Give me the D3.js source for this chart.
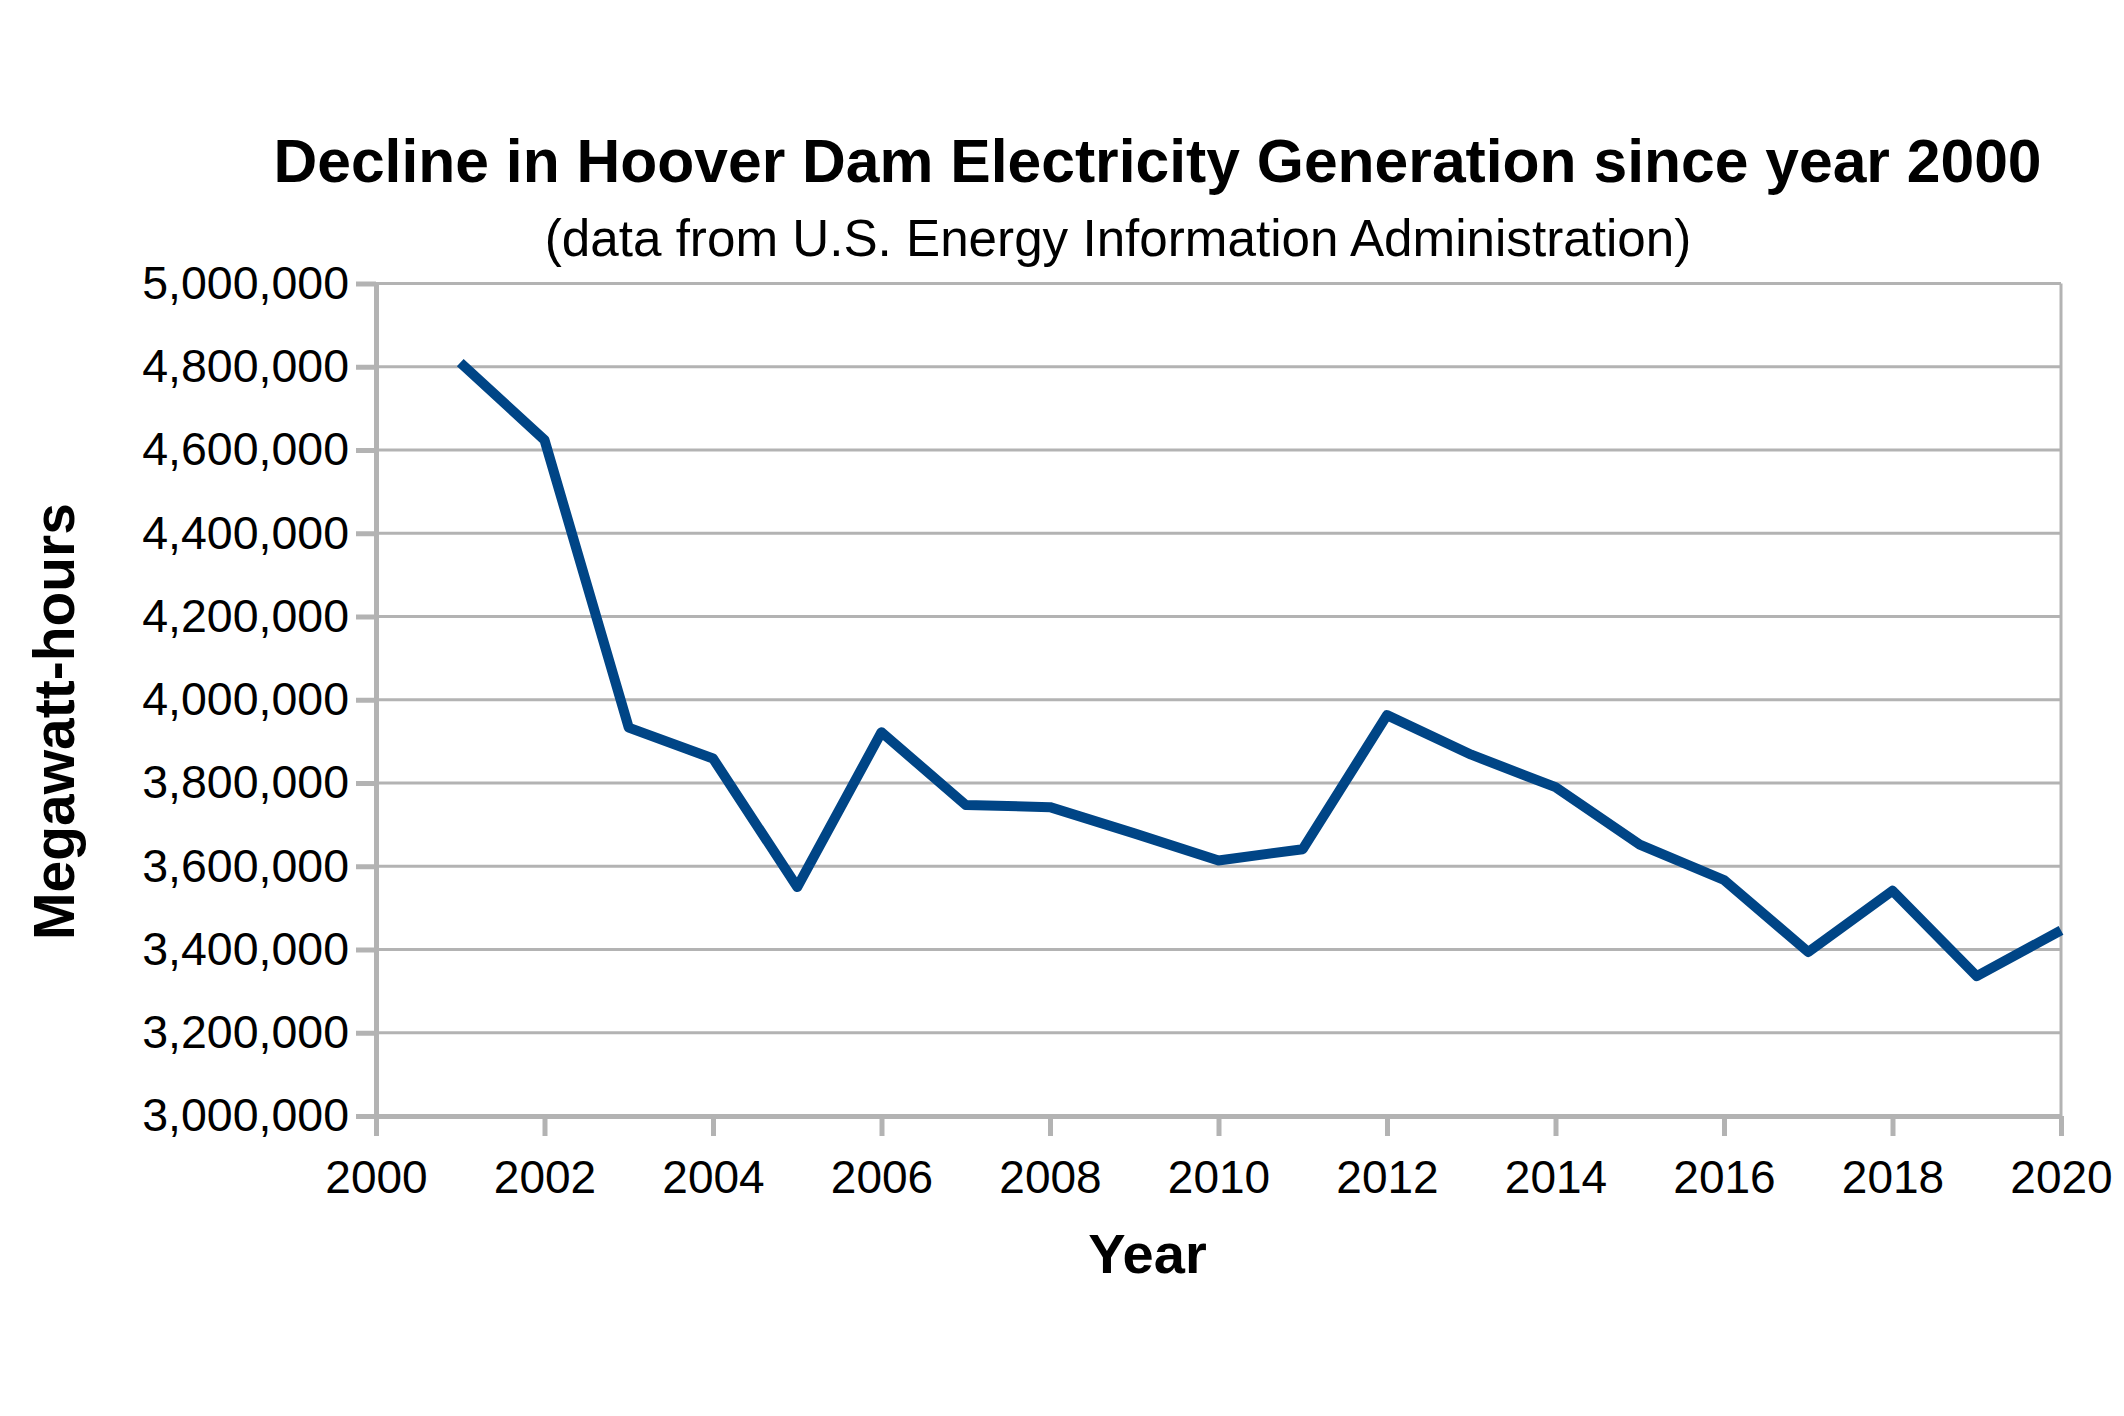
<!DOCTYPE html>
<html>
<head>
<meta charset="utf-8">
<script src="https://cdn.jsdelivr.net/npm/d3@7"></script>
<style>
  html, body { margin: 0; padding: 0; background: #ffffff; }
  svg { display: block; font-family: "Liberation Sans", Arial, sans-serif; }
</style>
</head>
<body>
<svg id="chart" width="2124" height="1416"></svg>
<script>
// ---- data ----
const years = [2001, 2002, 2003, 2004, 2005, 2006, 2007, 2008, 2009, 2010,
               2011, 2012, 2013, 2014, 2015, 2016, 2017, 2018, 2019, 2020];
const generation = [4810000, 4624000, 3933000, 3859000, 3550000, 3922000, 3747000, 3742000, 3679000, 3614000,
                    3641000, 3963000, 3868000, 3790000, 3652000, 3567000, 3394000, 3541000, 3336000, 3446000];
const yTicks = [3000000, 3200000, 3400000, 3600000, 3800000, 4000000, 4200000, 4400000, 4600000, 4800000, 5000000];
const xTicks = [2000, 2002, 2004, 2006, 2008, 2010, 2012, 2014, 2016, 2018, 2020];
const titleText = "Decline in Hoover Dam Electricity Generation since year 2000";
const subtitleText = "(data from U.S. Energy Information Administration)";
const xLabel = "Year";
const yLabel = "Megawatt-hours";

// ---- layout ----
const W = 2124, H = 1416;
const margin = {left: 376, right: 63, top: 283.5, bottom: 300};
const iw = W - margin.left - margin.right;
const ih = H - margin.top - margin.bottom;
const gridColor = "#b3b3b3";

const svg = d3.select("#chart");
const g = svg.append("g").attr("transform", `translate(${margin.left},${margin.top})`);

const x = d3.scaleLinear().domain([2000, 2020]).range([0, iw]);
const y = d3.scaleLinear().domain([3000000, 5000000]).range([ih, 0]);

// gridlines
g.append("g")
  .selectAll("line")
  .data(yTicks)
  .join("line")
  .attr("x1", 0).attr("x2", iw)
  .attr("y1", d => y(d)).attr("y2", d => y(d))
  .attr("stroke", gridColor).attr("stroke-width", 3);

// right border
g.append("line")
  .attr("x1", iw).attr("x2", iw).attr("y1", 0).attr("y2", ih)
  .attr("stroke", gridColor).attr("stroke-width", 3);

// y axis
const yAxis = g.append("g")
  .call(d3.axisLeft(y).tickValues(yTicks).tickFormat(d3.format(",")).tickSize(20).tickSizeOuter(0).tickPadding(7));
yAxis.select(".domain").attr("stroke", gridColor).attr("stroke-width", 5);
yAxis.selectAll(".tick line").attr("stroke", gridColor).attr("stroke-width", 5);
yAxis.selectAll(".tick text").attr("font-size", 46.5).attr("fill", "#000")
  .attr("font-family", "Liberation Sans, Arial, sans-serif");

// x axis
const xAxis = g.append("g").attr("transform", `translate(0,${ih})`)
  .call(d3.axisBottom(x).tickValues(xTicks).tickFormat(d3.format("d")).tickSize(20).tickSizeOuter(0).tickPadding(24));
xAxis.select(".domain").attr("stroke", gridColor).attr("stroke-width", 5);
xAxis.selectAll(".tick line").attr("stroke", gridColor).attr("stroke-width", 5);
xAxis.selectAll(".tick text").attr("font-size", 46).attr("fill", "#000")
  .attr("font-family", "Liberation Sans, Arial, sans-serif");

// data line
const pts = years.map((yr, i) => [yr, generation[i]]);
g.append("path")
  .datum(pts)
  .attr("fill", "none")
  .attr("stroke", "#004586")
  .attr("stroke-width", 10)
  .attr("stroke-linejoin", "round")
  .attr("stroke-linecap", "butt")
  .attr("d", d3.line().x(d => x(d[0])).y(d => y(d[1])));

// titles
svg.append("text")
  .attr("x", 1157.5).attr("y", 182)
  .attr("text-anchor", "middle")
  .attr("font-size", 60.6).attr("font-weight", "bold").attr("fill", "#000")
  .text(titleText);

svg.append("text")
  .attr("x", 1118).attr("y", 256)
  .attr("text-anchor", "middle")
  .attr("font-size", 51.2).attr("fill", "#000")
  .text(subtitleText);

// axis titles
svg.append("text")
  .attr("x", 1147.5).attr("y", 1273)
  .attr("text-anchor", "middle")
  .attr("font-size", 56).attr("font-weight", "bold").attr("fill", "#000")
  .text(xLabel);

svg.append("text")
  .attr("transform", "translate(74,721.5) rotate(-90)")
  .attr("text-anchor", "middle")
  .attr("font-size", 57).attr("font-weight", "bold").attr("fill", "#000")
  .text(yLabel);
</script>
</body>
</html>
